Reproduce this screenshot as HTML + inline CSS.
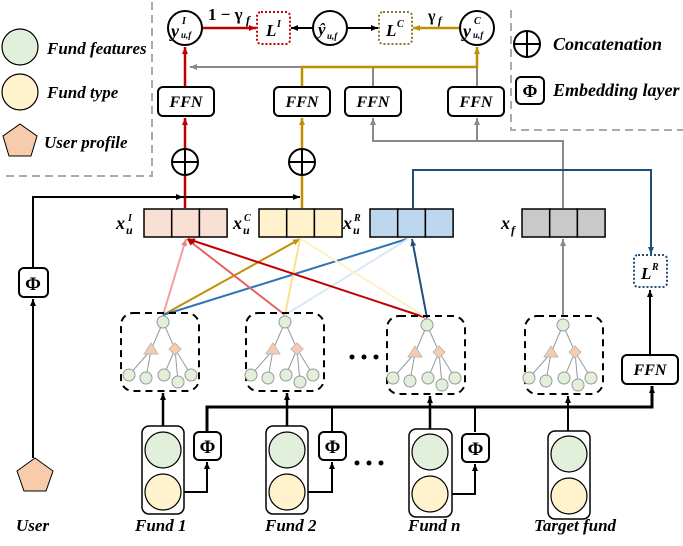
<!DOCTYPE html>
<html><head><meta charset="utf-8"><style>
html,body{margin:0;padding:0;background:#fff}
svg{display:block}
text{font-family:"Liberation Serif",serif;font-weight:bold;font-style:italic}
</style></head><body>
<svg width="683" height="546" viewBox="0 0 683 546" xmlns="http://www.w3.org/2000/svg">
<defs>
<marker id="ak" markerWidth="8" markerHeight="8" refX="7" refY="4" orient="auto" markerUnits="userSpaceOnUse"><path d="M0,1 L7,4 L0,7z" fill="#000"/></marker>
<marker id="ar" markerWidth="8" markerHeight="8" refX="7" refY="4" orient="auto" markerUnits="userSpaceOnUse"><path d="M0,1 L7,4 L0,7z" fill="#c00000"/></marker>
<marker id="ag" markerWidth="8" markerHeight="8" refX="7" refY="4" orient="auto" markerUnits="userSpaceOnUse"><path d="M0,1 L7,4 L0,7z" fill="#bf9000"/></marker>
<marker id="ay" markerWidth="8" markerHeight="8" refX="7" refY="4" orient="auto" markerUnits="userSpaceOnUse"><path d="M0,1 L7,4 L0,7z" fill="#888"/></marker>
<marker id="ab" markerWidth="8" markerHeight="8" refX="7" refY="4" orient="auto" markerUnits="userSpaceOnUse"><path d="M0,1 L7,4 L0,7z" fill="#1f4e79"/></marker>
<marker id="ap" markerWidth="8" markerHeight="8" refX="7" refY="4" orient="auto" markerUnits="userSpaceOnUse"><path d="M0,1 L7,4 L0,7z" fill="#f08080"/></marker>
<g id="tree">
<g stroke="#999" stroke-width="1" fill="none">
<path d="M42,9 L30,37 M42,9 L54,36 M30,37 L8,62 M30,37 L25,65 M54,36 L43,62 M54,36 L57,69 M54,36 L70,62"/>
</g>
<circle cx="42" cy="9" r="6" fill="#e2efda" stroke="#999"/>
<path d="M30,30 L37,41 L23,41z" fill="#f8cbad" stroke="#bbb"/>
<path d="M54,30 L60,36 L54,42 L48,36z" fill="#f8cbad" stroke="#bbb"/>
<circle cx="8" cy="62" r="6" fill="#e2efda" stroke="#999"/>
<circle cx="25" cy="65" r="6" fill="#e2efda" stroke="#999"/>
<circle cx="43" cy="62" r="6" fill="#e2efda" stroke="#999"/>
<circle cx="57" cy="69" r="6" fill="#e2efda" stroke="#999"/>
<circle cx="70" cy="62" r="6" fill="#e2efda" stroke="#999"/>
</g>
</defs>

<g stroke="#aaa" stroke-width="2" stroke-dasharray="8,5" fill="none">
<path d="M152,2 V176 H2"/>
<path d="M511,10 V130 H683"/>
</g>
<circle cx="20" cy="47" r="18" fill="#e2efda" stroke="#000" stroke-width="1.2"/>
<text x="47" y="54" font-size="17">Fund features</text>
<circle cx="20" cy="92" r="18" fill="#fff2cc" stroke="#000" stroke-width="1.2"/>
<text x="47" y="98" font-size="17">Fund type</text>
<path d="M20,124 L37,136 L31,156 L9,156 L3,136z" fill="#f8cbad" stroke="#000" stroke-width="1"/>
<text x="44" y="148" font-size="17">User profile</text>
<circle cx="527" cy="44" r="13" fill="#fff" stroke="#000" stroke-width="2"/>
<path d="M514,44 H540 M527,31 V57" stroke="#000" stroke-width="2"/>
<text x="553" y="50" font-size="18">Concatenation</text>
<rect x="516" y="77" width="28" height="27" rx="5" fill="#fff" stroke="#000" stroke-width="2"/>
<text x="530" y="97" font-size="18" text-anchor="middle" style="font-style:normal">Φ</text>
<text x="553" y="96" font-size="18">Embedding layer</text>

<line x1="203" y1="28" x2="256" y2="28" stroke="#c00000" stroke-width="2.5" marker-end="url(#ar)"/>
<text x="208" y="20" font-size="17" style="font-style:normal">1 − γ</text><text x="246" y="24" font-size="12">f</text>
<rect x="257" y="12" width="33" height="32" rx="4" fill="#fff" stroke="#c00000" stroke-width="2" stroke-dasharray="2,2"/>
<text x="266" y="36" font-size="17">L</text><text x="277" y="27" font-size="10">I</text>
<line x1="313" y1="28" x2="291" y2="28" stroke="#000" stroke-width="2" marker-end="url(#ak)"/>
<line x1="347" y1="28" x2="378" y2="28" stroke="#000" stroke-width="2" marker-end="url(#ak)"/>
<circle cx="330" cy="28" r="17" fill="#fff" stroke="#000" stroke-width="2"/>
<text x="318" y="35" font-size="17">ŷ</text><text x="327" y="39" font-size="9">u,f</text>
<rect x="379" y="12" width="33" height="32" rx="4" fill="#fff" stroke="#8f7a2a" stroke-width="2" stroke-dasharray="2,2"/>
<text x="386" y="36" font-size="17">L</text><text x="397" y="27" font-size="10">C</text>
<line x1="460" y1="28" x2="413" y2="28" stroke="#bf9000" stroke-width="2.5" marker-end="url(#ag)"/>
<text x="428" y="21" font-size="16" style="font-style:normal">γ</text><text x="438" y="24" font-size="11">f</text>
<circle cx="185" cy="28" r="17" fill="#fff" stroke="#000" stroke-width="2"/>
<text x="171" y="37" font-size="18">y</text><text x="182" y="24" font-size="10">I</text><text x="181" y="38" font-size="9">u,f</text>
<circle cx="477" cy="28" r="17" fill="#fff" stroke="#000" stroke-width="2"/>
<text x="463" y="37" font-size="18">y</text><text x="474" y="24" font-size="10">C</text><text x="473" y="38" font-size="9">u,f</text>

<path d="M373,87 V67 H190" stroke="#888" stroke-width="2" fill="none" marker-end="url(#ay)"/>
<path d="M477,87 V67" stroke="#888" stroke-width="2"/>
<path d="M302,87 V67 H477 V47" stroke="#bf9000" stroke-width="2.5" fill="none" marker-end="url(#ag)"/>
<path d="M185,87 V47" stroke="#c00000" stroke-width="2.5" marker-end="url(#ar)"/>

<g fill="#fff" stroke="#000" stroke-width="2">
<rect x="158" y="87" width="56" height="29" rx="5"/>
<rect x="274" y="87" width="56" height="29" rx="5"/>
<rect x="345" y="87" width="56" height="29" rx="5"/>
<rect x="448" y="87" width="56" height="29" rx="5"/>
<rect x="622" y="355" width="56" height="29" rx="5"/>
</g>
<g font-size="16" text-anchor="middle">
<text x="186" y="107">FFN</text><text x="302" y="107">FFN</text><text x="373" y="107">FFN</text><text x="476" y="107">FFN</text><text x="650" y="375">FFN</text>
</g>

<path d="M563,208 V141 H373 V118" stroke="#888" stroke-width="2" fill="none" marker-end="url(#ay)"/>
<path d="M477,141 V118" stroke="#888" stroke-width="2" marker-end="url(#ay)"/>
<path d="M413,208 V170 H651 V254" stroke="#1f4e79" stroke-width="2" fill="none" marker-end="url(#ab)"/>

<path d="M185,208 V118" stroke="#c00000" stroke-width="2.5" marker-end="url(#ar)"/>
<path d="M302,208 V118" stroke="#bf9000" stroke-width="2.5" marker-end="url(#ag)"/>
<g fill="#fff" stroke="#000" stroke-width="2">
<circle cx="185" cy="162" r="13"/><circle cx="302" cy="162" r="13"/>
</g>
<path d="M172,162 H198 M185,149 V175 M289,162 H315 M302,149 V175" stroke="#000" stroke-width="2"/>

<path d="M33,458 V299" stroke="#000" stroke-width="2" marker-end="url(#ak)"/>
<path d="M33,268 V197 H300" stroke="#000" stroke-width="2" fill="none" marker-end="url(#ak)"/>
<path d="M100,197 H183" stroke="#000" stroke-width="2" marker-end="url(#ak)"/>
<rect x="19" y="268" width="29" height="29" rx="5" fill="#fff" stroke="#000" stroke-width="2"/>
<text x="33" y="290" font-size="19" text-anchor="middle" style="font-style:normal">Φ</text>

<g stroke-width="2" fill="none">
<line x1="163" y1="315" x2="186" y2="239" stroke="#f4a0a0" marker-end="url(#ap)"/>
<line x1="163" y1="315" x2="300" y2="239" stroke="#bf9000" marker-end="url(#ag)"/>
<line x1="163" y1="315" x2="407" y2="239" stroke="#2e75b6"/>
<line x1="285" y1="315" x2="187" y2="239" stroke="#e86060" marker-end="url(#ar)"/>
<line x1="285" y1="315" x2="300" y2="239" stroke="#ffe08a"/>
<line x1="285" y1="315" x2="408" y2="239" stroke="#dbe8f5"/>
<line x1="427" y1="318" x2="188" y2="239" stroke="#c00000" marker-end="url(#ar)"/>
<line x1="427" y1="318" x2="301" y2="239" stroke="#fff0c8"/>
<line x1="427" y1="318" x2="412" y2="239" stroke="#1f4e79" marker-end="url(#ab)"/>
<line x1="563" y1="316" x2="563" y2="239" stroke="#888" marker-end="url(#ay)"/>
</g>

<g stroke="#000" stroke-width="1.5">
<rect x="144" y="209" width="27.7" height="28" fill="#f9e0d5"/><rect x="171.7" y="209" width="27.7" height="28" fill="#f9e0d5"/><rect x="199.4" y="209" width="27.7" height="28" fill="#f9e0d5"/>
<rect x="259" y="209" width="27.7" height="28" fill="#fff2cc"/><rect x="286.7" y="209" width="27.7" height="28" fill="#fff2cc"/><rect x="314.4" y="209" width="27.7" height="28" fill="#fff2cc"/>
<rect x="370" y="209" width="27.7" height="28" fill="#bdd7ee"/><rect x="397.7" y="209" width="27.7" height="28" fill="#bdd7ee"/><rect x="425.4" y="209" width="27.7" height="28" fill="#bdd7ee"/>
<rect x="522" y="209" width="27.7" height="28" fill="#c9c9c9"/><rect x="549.7" y="209" width="27.7" height="28" fill="#c9c9c9"/><rect x="577.4" y="209" width="27.7" height="28" fill="#c9c9c9"/>
</g>
<g font-size="18">
<text x="116" y="229">x</text><text x="128" y="221" font-size="10">I</text><text x="126" y="234" font-size="12">u</text>
<text x="233" y="229">x</text><text x="244" y="221" font-size="10">C</text><text x="243" y="234" font-size="12">u</text>
<text x="343" y="229">x</text><text x="354" y="221" font-size="10">R</text><text x="353" y="234" font-size="12">u</text>
<text x="501" y="229">x</text><text x="511" y="234" font-size="12">f</text>
</g>

<path d="M650,355 V290" stroke="#000" stroke-width="2" marker-end="url(#ak)"/>
<rect x="634" y="255" width="33" height="32" rx="4" fill="#fff" stroke="#1f4e79" stroke-width="2" stroke-dasharray="2,2"/>
<text x="641" y="279" font-size="17">L</text><text x="652" y="270" font-size="10">R</text>

<g fill="none" stroke="#000" stroke-width="2" stroke-dasharray="7,5">
<rect x="121" y="313" width="78" height="78" rx="12"/>
<rect x="246" y="313" width="78" height="78" rx="12"/>
<rect x="387" y="316" width="78" height="78" rx="12"/>
<rect x="525" y="316" width="78" height="78" rx="12"/>
</g>
<use href="#tree" x="121" y="313"/>
<use href="#tree" x="243" y="313"/>
<use href="#tree" x="385" y="316"/>
<use href="#tree" x="521" y="316"/>
<g fill="#000"><circle cx="352" cy="357" r="2.5"/><circle cx="364" cy="357" r="2.5"/><circle cx="376" cy="357" r="2.5"/>
<circle cx="357" cy="463" r="2.5"/><circle cx="369" cy="463" r="2.5"/><circle cx="381" cy="463" r="2.5"/></g>

<path d="M207,432 V407 H652 V386" stroke="#000" stroke-width="3" fill="none" marker-end="url(#ak)"/>
<path d="M332,432 V407 M475,432 V407" stroke="#000" stroke-width="2"/>
<g stroke="#000" stroke-width="2.5">
<path d="M163,426 V393" marker-end="url(#ak)"/>
<path d="M287,426 V393" marker-end="url(#ak)"/>
<path d="M430,429 V396" marker-end="url(#ak)"/>
<path d="M568,431 V396" stroke="#000" stroke-width="2" marker-end="url(#ak)"/>
</g>
<g stroke="#000" stroke-width="2" fill="none">
<path d="M181,492 H207 V462" marker-end="url(#ak)"/>
<path d="M305,492 H332 V462" marker-end="url(#ak)"/>
<path d="M448,494 H475 V464" marker-end="url(#ak)"/>
</g>
<g fill="#fff" stroke="#000" stroke-width="1.5">
<rect x="142" y="426" width="42" height="88" rx="7"/>
<rect x="266" y="426" width="42" height="88" rx="7"/>
<rect x="409" y="429" width="43" height="88" rx="7"/>
<rect x="548" y="431" width="42" height="88" rx="7"/>
</g>
<g stroke="#000" stroke-width="1.2">
<circle cx="163" cy="450" r="18" fill="#e2efda"/><circle cx="163" cy="492" r="18" fill="#fff2cc"/>
<circle cx="287" cy="450" r="18" fill="#e2efda"/><circle cx="287" cy="492" r="18" fill="#fff2cc"/>
<circle cx="430" cy="452" r="18" fill="#e2efda"/><circle cx="430" cy="494" r="18" fill="#fff2cc"/>
<circle cx="569" cy="454" r="18" fill="#e2efda"/><circle cx="569" cy="496" r="18" fill="#fff2cc"/>
</g>
<g fill="#fff" stroke="#000" stroke-width="2">
<rect x="194" y="432" width="27" height="28" rx="5"/>
<rect x="319" y="432" width="27" height="28" rx="5"/>
<rect x="462" y="434" width="27" height="28" rx="5"/>
</g>
<g font-size="19" text-anchor="middle">
<text x="207.5" y="453" style="font-style:normal">Φ</text><text x="332.5" y="453" style="font-style:normal">Φ</text><text x="475.5" y="455" style="font-style:normal">Φ</text>
</g>
<path d="M35,458 L53,471 L46,491 L24,491 L17,471z" fill="#f8cbad" stroke="#000" stroke-width="1"/>

<g font-size="17">
<text x="16" y="531">User</text>
<text x="135" y="531">Fund 1</text>
<text x="265" y="531">Fund 2</text>
<text x="408" y="531">Fund n</text>
<text x="534" y="531">Target fund</text>
</g>
</svg>
</body></html>
